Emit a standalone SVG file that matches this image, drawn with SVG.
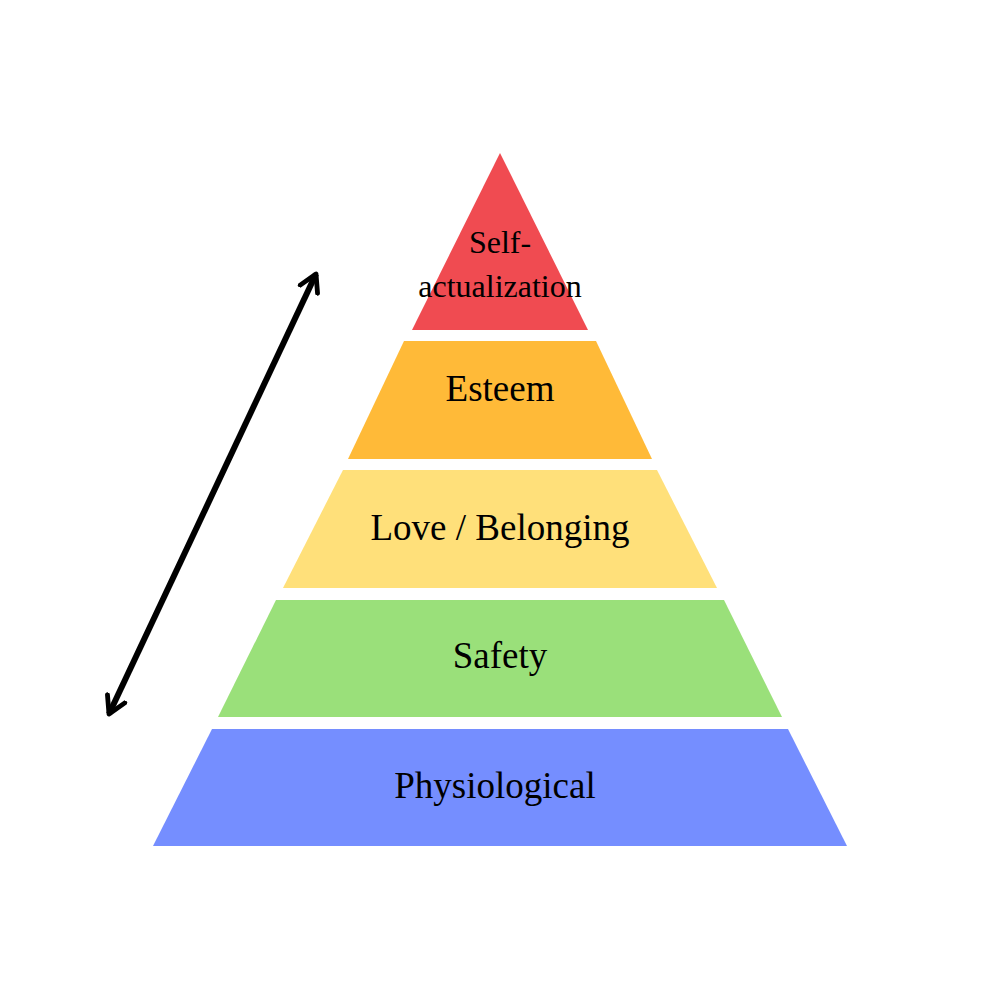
<svg xmlns="http://www.w3.org/2000/svg" width="1000" height="1000" viewBox="0 0 1000 1000">
<defs>
<style>
text{font-family:"Liberation Serif","DejaVu Serif",serif;fill:#000;text-anchor:middle}
.l{font-size:37px}
.s{font-size:32px}
</style>
<marker id="ah" viewBox="0 0 10 10" refX="8" refY="5" markerWidth="4" markerHeight="4" orient="auto-start-reverse" markerUnits="strokeWidth">
<path d="M1,1 L8,5 L1,9" fill="none" stroke="#000" stroke-width="2" stroke-linecap="round" stroke-linejoin="round"/>
</marker>
</defs>
<rect width="1000" height="1000" fill="#fff"/>
<g id="self"><polygon points="500,153 588,330 412,330" fill="#F04B51"/><text class="s" x="500" y="253">Self-</text><text class="s" x="500" y="297">actualization</text></g>
<g id="esteem"><polygon points="404,341 596,341 652,459 348,459" fill="#FFBA38"/><text class="l" x="500" y="401">Esteem</text></g>
<g id="love"><polygon points="343,470 657,470 717,588 283,588" fill="#FFE07A"/><text class="l" x="500" y="540">Love / Belonging</text></g>
<g id="safety"><polygon points="276,600 724,600 782,717 218,717" fill="#9AE07A"/><text class="l" x="500" y="668">Safety</text></g>
<g id="physio"><polygon points="212,729 788,729 847,846 153,846" fill="#758EFF"/><text class="l" x="495" y="798">Physiological</text></g>
<g id="connectors"><line x1="316" y1="274" x2="109" y2="714" stroke="#000" stroke-width="6" marker-start="url(#ah)" marker-end="url(#ah)"/></g>
</svg>
